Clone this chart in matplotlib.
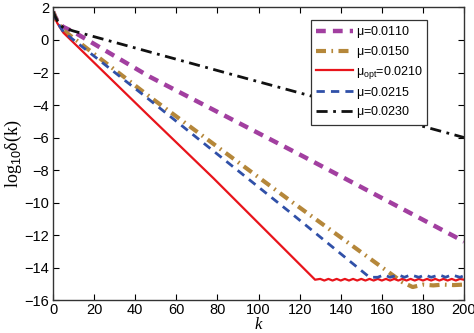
import matplotlib
matplotlib.use("Agg")
import matplotlib.pyplot as plt

# ---- data ----
k_110 = [0, 1, 2, 3, 5, 10, 47, 122, 200]
v_110 = [1.75, 1.45, 1.2, 1.0, 0.8, 0.5, -2.26, -7.18, -12.4]

k_150 = [0, 1, 2, 3, 5, 47, 115, 170, 175, 180, 185, 190, 195, 200]
v_150 = [1.75, 1.4, 1.1, 0.95, 0.6, -3.49, -9.85, -14.9, -15.2, -15.05, -15.1, -15.05, -15.08, -15.05]

k_opt = [0, 1, 2, 3, 5, 47, 78, 127.5, 130, 132, 134, 136, 138, 140, 142, 144, 146, 148, 150,
         152, 154, 156, 158, 160, 162, 164, 166, 168, 170, 172, 174, 176, 178, 180, 182, 184,
         186, 188, 190, 192, 194, 196, 198, 200]
v_opt = [1.75, 1.35, 1.05, 0.85, 0.45, -4.72, -8.5, -14.75, -14.7, -14.8, -14.7, -14.8, -14.7,
         -14.8, -14.7, -14.8, -14.7, -14.8, -14.7, -14.8, -14.7, -14.8, -14.7, -14.8, -14.7,
         -14.8, -14.7, -14.8, -14.7, -14.8, -14.7, -14.8, -14.7, -14.8, -14.7, -14.8, -14.7,
         -14.8, -14.7, -14.8, -14.7, -14.8, -14.7, -14.75]

k_215 = [0, 1, 2, 3, 5, 47, 115, 154, 158, 161, 164, 168, 171, 174, 178, 181, 184, 188, 191, 194, 198, 200]
v_215 = [1.75, 1.38, 1.08, 0.9, 0.5, -3.69, -10.57, -14.6, -14.6, -14.45, -14.6, -14.45, -14.6,
         -14.45, -14.6, -14.45, -14.6, -14.45, -14.6, -14.45, -14.6, -14.5]

k_230 = [0, 1, 2, 3, 5, 10, 91, 200]
v_230 = [1.75, 1.45, 1.2, 1.0, 0.75, 0.55, -2.26, -6.0]

labels = [r"$\mathregular{\mu}$=0.0110", r"$\mathregular{\mu}$=0.0150",
          r"$\mathregular{\mu_{opt}}$=0.0210", r"$\mathregular{\mu}$=0.0215",
          r"$\mathregular{\mu}$=0.0230"]
colors = ["#A23FA0", "#B5873A", "#E8141B", "#3050A8", "#111111"]

xticks = list(range(0, 201, 20))
yticks = list(range(-16, 3, 2))

plt.rcParams["font.family"] = ["Liberation Sans", "DejaVu Sans"]
plt.rcParams["mathtext.fontset"] = "custom"
plt.rcParams["mathtext.rm"] = "Liberation Sans"

fig = plt.figure(figsize=(4.74, 3.33), dpi=100)
ax = fig.add_axes([0.112, 0.099, 0.867, 0.8785])

ax.plot(k_110, v_110, color=colors[0], lw=3.2, dashes=(2.2, 1.6), label=labels[0])
ax.plot(k_150, v_150, color=colors[1], lw=3.0, dashes=(2.4, 1.3, 0.4, 1.3), label=labels[1])
ax.plot(k_opt, v_opt, color=colors[2], lw=1.6, ls="-", label=labels[2])
ax.plot(k_215, v_215, color=colors[3], lw=2.0, dashes=(3.0, 2.2), label=labels[3])
ax.plot(k_230, v_230, color=colors[4], lw=2.0, dashes=(4.0, 2.0, 1.0, 2.0), label=labels[4])

ax.set_xlim(0, 200)
ax.set_ylim(-16, 2)
ax.set_xticks(xticks)
ax.set_yticks(yticks)
ax.tick_params(direction="in", top=True, right=True, labelsize=10.5, length=4, width=0.8,
               pad=3)
ax.tick_params(axis="x", pad=2)
for s in ax.spines.values():
    s.set_linewidth(1.0)
    s.set_color("#333333")

ax.set_xlabel("k", family="Liberation Serif", style="italic", fontsize=12, labelpad=0)
ax.set_ylabel(r"log$_{10}$δ(k)", family="Liberation Serif", fontsize=13, labelpad=0)

leg = ax.legend(loc="upper right", bbox_to_anchor=(0.91, 0.957), fontsize=9,
                frameon=True, fancybox=False, framealpha=1.0, handlelength=3.0,
                handletextpad=0.2, borderpad=0.35, labelspacing=0.3, borderaxespad=0)
leg.get_frame().set_edgecolor("#333333")
leg.get_frame().set_linewidth(0.9)

fig.savefig("out.png", dpi=100)
